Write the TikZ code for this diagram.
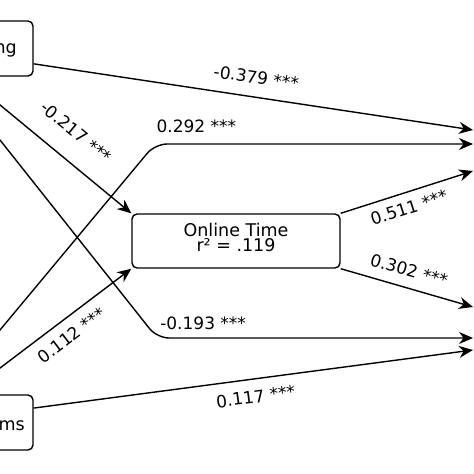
\documentclass[tikz,border=0pt]{standalone}
\usepackage{fontspec}
\setmainfont{DejaVu Sans}
\usetikzlibrary{arrows.meta}
\begin{document}
\begin{tikzpicture}[x=1pt,y=-1pt,
  box/.style={draw, line width=1.4pt, rounded corners=5pt, inner sep=0pt},
  conn/.style={line width=1.4pt},
  arr/.style={conn, -{Stealth[length=14pt,width=12pt]}},
  lbl/.style={font=\fontsize{17}{18}\selectfont, inner sep=3.3pt},
  boxtext/.style={font=\fontsize{17.5}{15}\selectfont, inner sep=0pt},
]
\clip (0,0) rectangle (474,474);
\fill[white] (0,0) rectangle (474,474);

% boxes
\node[box, minimum width=93pt, minimum height=55pt] (ng) at (-13.5,48.5) {};
\node[boxtext, anchor=base east] (ngtext) at (17,53) {ng};
\node[box, minimum width=93pt, minimum height=55pt] (ms) at (-13.5,422.5) {};
\node[boxtext, anchor=base east] (mstext) at (25,430) {ms};
\node[box, boxtext, minimum width=208pt, minimum height=54pt, align=center, text depth=7pt] (ot) at (236,241) {Online Time\\r² = .119};

% free ends
\coordinate (t1) at (473,130);
\coordinate (t2) at (473,144);
\coordinate (t3) at (473,171);
\coordinate (t4) at (473,307);
\coordinate (t5) at (473,338);
\coordinate (t6) at (473,350);
\coordinate (l2) at (-10,96.7);
\coordinate (l3) at (-10,127.4);
\coordinate (l4) at (-10,342);
\coordinate (l5) at (-10,375.6);
\coordinate (k3) at (157,338);
\coordinate (k4) at (155,144);

% connectors
\draw[arr] (ng.-18.4) -- node[lbl, sloped, above=9pt, pos=0.5] {-0.379 ***} (t1);
\draw[arr] (l2) -- node[lbl, sloped, above=17pt, pos=0.486] {-0.217 ***} (ot.north west);
\draw[arr, rounded corners=12pt] (l3) -- (k3) -- node[lbl, pos=0.146, above=4.7pt] {-0.193 ***} (t5);
\draw[arr, rounded corners=12pt] (l4) -- (k4) -- node[lbl, pos=0.13, above=7.4pt] {0.292 ***} (t2);
\draw[arr] (l5) -- node[lbl, sloped, below=6.6pt, pos=0.506] {0.112 ***} (ot.south west);
\draw[arr] (ms.17.3) -- node[lbl, sloped, below=7.4pt, pos=0.5] {0.117 ***} (t6);
\draw[arr] (ot.north east) -- node[lbl, sloped, below=4.9pt, pos=0.48] {0.511 ***} (t3);
\draw[arr] (ot.south east) -- node[lbl, sloped, above=7pt, pos=0.48] {0.302 ***} (t4);
\end{tikzpicture}
\end{document}
